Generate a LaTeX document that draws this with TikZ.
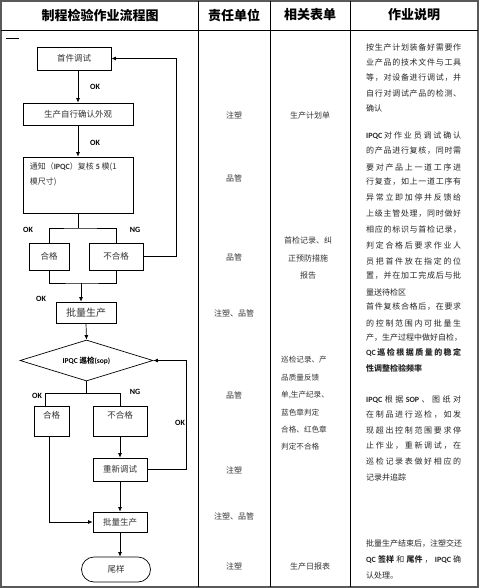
\documentclass[tikz,border=0pt]{standalone}
\usepackage{fontspec}
\setmainfont{Noto Sans CJK SC}
\newfontfamily\lat{Carlito}
\usetikzlibrary{arrows.meta,shapes.geometric}
\def\jstop{\jstop}
\def\jlinei#1{\ifx\jstop#1\else{#1}\hfil\expandafter\jlinei\fi}
\newcommand\jl[1]{\hbox to 95pt{\jlinei#1\jstop\unskip}}
\newcommand\bl[1]{{\lat\bfseries #1}}
\begin{document}
\begin{tikzpicture}[x=1pt,y=-1pt,
  box/.style={draw, line width=0.7pt, inner sep=1pt, font=\fontsize{8.5}{10}\selectfont, text=black!80},
  hightext/.style={text height=6pt, text depth=11pt},
  arr/.style={line width=0.7pt, -{Latex[length=4.5pt,width=4pt]}},
  ln/.style={line width=0.7pt},
  lab/.style={font=\lat\bfseries\fontsize{8}{9}\selectfont, inner sep=0pt},
  hd/.style={font=\bfseries\fontsize{13}{15}\selectfont, inner sep=0pt},
  col/.style={font=\fontsize{8}{9}\selectfont, text=black!80, inner sep=0pt},
  desc/.style={anchor=west, inner sep=0pt, font=\fontsize{8}{9}\selectfont, text=black!85},
  tline/.style={line width=0.6pt}
]
\useasboundingbox (0,0) rectangle (479,588);
% table
\draw[line width=1.2pt, gray!70!black] (1,1) rectangle (478,587);
\draw[tline] (1,30) -- (478,30);
\draw[tline] (198,1) -- (198,587);
\draw[tline] (270,1) -- (270,587);
\draw[tline] (350,1) -- (350,587);
\node[hd] (h1) at (100,15) {制程检验作业流程图};
\node[hd] (h2) at (234,15) {责任单位};
\node[hd] (h3) at (310,15) {相关表单};
\node[hd] (h4) at (414,15) {作业说明};
% flowchart
\draw[ln] (6,38) -- (19,38);
\node[box, minimum width=74pt, minimum height=23pt] (b1) at (74,58.5) {首件调试};
\node[box, minimum width=110pt, minimum height=22pt] (b2) at (78,114) {生产自行确认外观};
\node[box, minimum width=110pt, minimum height=56pt] (b3) at (78,185) {};
\node[col, anchor=north west, align=left, font=\fontsize{8}{15}\selectfont] (b3t) at ([xshift=7pt,yshift=-6pt]b3.north west) {通知（\bl{IPQC}）复核 \bl{5} 模(1\\模尺寸)};
\draw[arr] (b1.south -| b2.north) -- (b2.north);
\node[lab] (ok1) at (95,87) {OK};
\draw[arr] (b2.south) -- (b3.north);
\node[lab] (ok2) at (95,143) {OK};
\node[box, minimum width=40pt, minimum height=27pt] (g1) at (49,256.5) {合格};
\node[box, minimum width=54pt, minimum height=27pt] (n1) at (116,256.5) {不合格};
\coordinate (j1) at (78,228);
\draw[ln] (b3.south) -- (j1);
\draw[ln] (g1.north) |- (j1) -| (n1.north);
\node[lab] (ok3) at (28,230) {OK};
\node[lab] (ng1) at (135,230) {NG};
\draw[arr] (n1.east) -- ++(33,0) |- (b1.east);
\coordinate (j2) at (81,283);
\draw[ln] (g1.south) |- (j2) -| (n1.south);
\node[box, minimum width=60pt, minimum height=21pt, font=\fontsize{10}{12}\selectfont] (p1) at (86,312.5) {批量生产};
\draw[arr] (j2) -- (j2 |- p1.north);
\node[lab] (ok4) at (41,299) {OK};
\node[diamond, draw, line width=0.7pt, aspect=3, inner sep=0pt, minimum width=133pt, minimum height=41pt, font=\bfseries\fontsize{7.5}{9}\selectfont] (d) at (86.5,360.5) {\bl{IPQC} 巡检\bl{(sop)}};
\draw[arr] (p1.south) -- (d.north);
\node[box, hightext, minimum width=35pt, minimum height=30pt] (g2) at (51.5,421) {合格};
\node[box, hightext, minimum width=54pt, minimum height=30pt] (n2) at (120,421) {不合格};
\coordinate (j3) at (86.5,393);
\coordinate (j3l) at (45,393);
\coordinate (j3r) at (120,393);
\draw[ln] (d.south) -- (j3);
\draw[ln] (j3l |- g2.north) -- (j3l) -- (j3r) -- (n2.north);
\node[lab] (ok5) at (37,396) {OK};
\node[lab] (ng2) at (135,392) {NG};
\node[box, minimum width=54pt, minimum height=23pt] (rt) at (120,469.5) {重新调试};
\draw[arr] (n2.south) -- (rt.north);
\draw[arr] (rt.east) -- ++(39,0) |- (d.east);
\node[lab] (ok6) at (180,423) {OK};
\node[box, minimum width=54pt, minimum height=20pt] (p2) at (120,522) {批量生产};
\draw[arr] (rt.south) -- (p2.north);
\coordinate (c5) at (49,522);
\draw[arr] (c5 |- g2.south) -- (c5) -- (p2.west);
\node[box, rounded corners=12.5pt, minimum width=69pt, minimum height=25pt] (tail) at (116,569.5) {尾样};
\draw[arr] (p2.south) -- (p2.south |- tail.north);
% column 2
\node[col] (r1) at (234,115) {注塑};
\node[col] (r2) at (234,178) {品管};
\node[col] (r3) at (234,257) {品管};
\node[col] (r4) at (234,313) {注塑、品管};
\node[col] (r5) at (234,395) {品管};
\node[col] (r6) at (234,470) {注塑};
\node[col] (r7) at (234,516) {注塑、品管};
\node[col] (r8) at (234,566) {注塑};
% column 3
\node[col] (f1) at (310,115) {生产计划单};
\node[col, align=center, font=\fontsize{8}{17.5}\selectfont] (f2) at (308,258) {首检记录、纠\\正预防措施\\报告};
\node[col, anchor=west, align=left, font=\fontsize{7.6}{17.4}\selectfont] (f3) at (281,403.5) {巡检记录、产\\品质量反馈\\单,生产纪录、\\蓝色章判定\\合格、红色章\\判定不合格};
\node[col] (f4) at (310,566) {生产日报表};
% column 4
\node[desc] (e1) at (366,47) {\jl{按生产计划装备好需要作}};
\node[desc] (e2) at (366,62) {\jl{业产品的技术文件与工具}};
\node[desc] (e3) at (366,78) {\jl{等，对设备进行调试，并}};
\node[desc] (e4) at (366,93) {\jl{自行对调试产品的检测、}};
\node[desc] (e5) at (366,108) {确认};
\node[desc] (e6) at (366,136) {\jl{{\bl{IPQC}}对作业员调试确认}};
\node[desc] (e7) at (366,151) {\jl{的产品进行复核，同时需}};
\node[desc] (e8) at (366,167) {\jl{要对产品上一道工序进}};
\node[desc] (e9) at (366,182) {\jl{行复查，如上一道工序有}};
\node[desc] (e10) at (366,197) {\jl{异常立即加停并反馈给}};
\node[desc] (e11) at (366,214) {\jl{上级主管处理，同时做好}};
\node[desc] (e12) at (366,230) {\jl{相应的标识与首检记录，}};
\node[desc] (e13) at (366,245) {\jl{判定合格后要求作业人}};
\node[desc] (e14) at (366,261) {\jl{员把首件放在指定的位}};
\node[desc] (e15) at (366,276) {\jl{置，并在加工完成后与批}};
\node[desc] (e16) at (366,292) {量送待检区};
\node[desc] (e17) at (366,307) {\jl{首件复核合格后，在要求}};
\node[desc] (e18) at (366,323) {\jl{的控制范围内可批量生}};
\node[desc] (e19) at (366,338) {\jl{产，生产过程中做好自检，}};
\node[desc] (e20) at (366,353) {\bfseries\jl{{\bl{QC}}巡检根据质量的稳定}};
\node[desc] (e21) at (366,368) {\bfseries 性调整检验频率};
\node[desc] (e22) at (366,400) {\jl{{\bl{IPQC}}根据{\bl{SOP}}、图纸对}};
\node[desc] (e23) at (366,415) {\jl{在制品进行巡检，如发}};
\node[desc] (e24) at (366,430) {\jl{现超出控制范围要求停}};
\node[desc] (e25) at (366,446) {\jl{止作业，重新调试，在}};
\node[desc] (e26) at (366,461) {\jl{巡检记录表做好相应的}};
\node[desc] (e27) at (366,477) {记录并追踪};
\node[desc] (e28) at (366,544) {\jl{批量生产结束后，注塑交还}};
\node[desc] (e29) at (366,560) {\jl{{\bl{QC}}{\bfseries 签样}和{\bfseries 尾件}，{\bl{IPQC}}确}};
\node[desc] (e30) at (366,575) {认处理。};
\end{tikzpicture}
\end{document}
